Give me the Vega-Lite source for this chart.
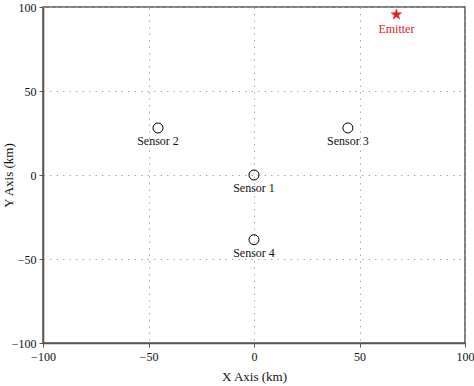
{
  "$schema": "https://vega.github.io/schema/vega-lite/v6.json",
  "width": 422,
  "height": 336,
  "autosize": {"type": "none"},
  "padding": {"left": 43, "top": 7, "right": 9, "bottom": 43},
  "background": "white",
  "config": {
    "font": "Liberation Serif",
    "view": {"stroke": "#555555", "strokeWidth": 1.5},
    "axis": {
      "labelFont": "Liberation Serif",
      "titleFont": "Liberation Serif",
      "labelFontSize": 12,
      "titleFontSize": 13,
      "titleFontWeight": "normal",
      "labelColor": "#111111",
      "titleColor": "#111111",
      "domainColor": "#555555",
      "domainWidth": 1.5,
      "tickColor": "#555555",
      "tickSize": 4,
      "gridColor": "#aaaaaa",
      "gridDash": [1.5, 5],
      "gridWidth": 1
    }
  },
  "data": {
    "values": [
      {"x": 0, "y": 0, "label": "Sensor 1", "kind": "sensor"},
      {"x": -45.5, "y": 28, "label": "Sensor 2", "kind": "sensor"},
      {"x": 44.5, "y": 28, "label": "Sensor 3", "kind": "sensor"},
      {"x": 0, "y": -38.5, "label": "Sensor 4", "kind": "sensor"},
      {"x": 67.5, "y": 95.5, "label": "Emitter", "kind": "emitter"}
    ]
  },
  "encoding": {
    "x": {
      "field": "x", "type": "quantitative",
      "scale": {"domain": [-100, 100], "nice": false, "zero": false},
      "axis": {"orient": "bottom", "grid": true, "values": [-100, -50, 0, 50, 100], "title": "X Axis (km)", "titlePadding": 8, "labelPadding": 4, "labelFlush": false}
    },
    "y": {
      "field": "y", "type": "quantitative",
      "scale": {"domain": [-100, 100], "nice": false, "zero": false},
      "axis": {"orient": "left", "grid": true, "values": [-100, -50, 0, 50, 100], "title": "Y Axis (km)", "titleX": -35, "titleBaseline": "middle", "labelPadding": 3, "labelFlush": false}
    }
  },
  "layer": [
    {
      "transform": [{"filter": "datum.kind === 'sensor'"}],
      "mark": {"type": "point", "shape": "circle", "size": 100, "stroke": "black", "strokeWidth": 1, "filled": false, "opacity": 1}
    },
    {
      "transform": [{"filter": "datum.kind === 'sensor'"}],
      "mark": {"type": "text", "dy": 13, "fontSize": 12, "color": "#111111", "font": "Liberation Serif"},
      "encoding": {"text": {"field": "label"}}
    },
    {
      "transform": [{"filter": "datum.kind === 'emitter'"}],
      "mark": {"type": "point", "shape": "M0,-1L0.235,-0.324L0.951,-0.309L0.38,0.124L0.588,0.809L0,0.4L-0.588,0.809L-0.38,0.124L-0.951,-0.309L-0.235,-0.324Z", "size": 125, "fill": "#e8202a", "stroke": "#e8202a", "strokeWidth": 0.5, "filled": true, "opacity": 1}
    },
    {
      "transform": [{"filter": "datum.kind === 'emitter'"}],
      "mark": {"type": "text", "dy": 14, "fontSize": 12, "color": "#e8202a", "font": "Liberation Serif"},
      "encoding": {"text": {"field": "label"}}
    }
  ]
}
